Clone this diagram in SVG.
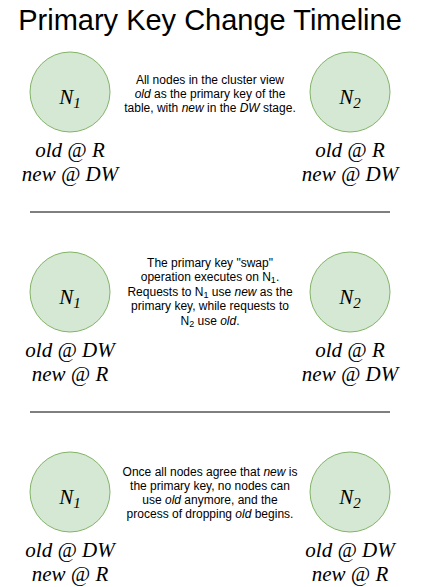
<svg xmlns="http://www.w3.org/2000/svg" width="421" height="587" viewBox="0 0 421 587">
<style>
.bg{fill:#ffffff}
.node{fill:#d5e8d4;stroke:#82b366;stroke-width:1}
.title{font-family:"Liberation Sans",Arial,sans-serif;font-size:29px;fill:#000;text-anchor:middle}
.nl{font-family:"Liberation Serif","Times New Roman",serif;font-style:italic;font-size:21px;fill:#000;text-anchor:middle}
.st{font-family:"Liberation Serif","Times New Roman",serif;font-style:italic;font-size:21px;fill:#000;text-anchor:middle}
.desc{font-family:"Liberation Sans",Arial,sans-serif;font-size:12px;fill:#000;text-anchor:middle}
.it{font-style:italic}
.sep{stroke:#000;stroke-width:1}
</style>
<rect class="bg" width="421" height="587"/>
<text class="title" x="210" y="30">Primary Key Change Timeline</text>

<g id="n1a"><circle class="node" cx="70" cy="92" r="40"/><text class="nl" x="70" y="104">N<tspan font-size="15" dy="4">1</tspan></text></g>
<g id="n2a"><circle class="node" cx="350" cy="92" r="40"/><text class="nl" x="350" y="104">N<tspan font-size="15" dy="4">2</tspan></text></g>
<g id="s1"><text class="st" x="70" y="157">old @ R</text><text class="st" x="70" y="181">new @ DW</text>
<text class="st" x="350" y="157">old @ R</text><text class="st" x="350" y="181">new @ DW</text></g>
<g id="d1"><text class="desc" x="210" y="84">All nodes in the cluster view</text>
<text class="desc" x="210" y="98"><tspan class="it">old</tspan> as the primary key of the</text>
<text class="desc" x="210" y="112">table, with <tspan class="it">new</tspan> in the <tspan class="it">DW</tspan> stage.</text></g>

<g id="n1b"><circle class="node" cx="70" cy="292" r="40"/><text class="nl" x="70" y="304">N<tspan font-size="15" dy="4">1</tspan></text></g>
<g id="n2b"><circle class="node" cx="350" cy="292" r="40"/><text class="nl" x="350" y="304">N<tspan font-size="15" dy="4">2</tspan></text></g>
<g id="s2"><text class="st" x="70" y="357">old @ DW</text><text class="st" x="70" y="381">new @ R</text>
<text class="st" x="350" y="357">old @ R</text><text class="st" x="350" y="381">new @ DW</text></g>
<g id="d2"><text class="desc" x="210" y="267">The primary key "swap"</text>
<text class="desc" x="210" y="281">operation executes on N<tspan font-size="9" dy="2">1</tspan><tspan dy="-2">.</tspan></text>
<text class="desc" x="210" y="296">Requests to N<tspan font-size="9" dy="2">1</tspan><tspan dy="-2"> use </tspan><tspan class="it">new</tspan> as the</text>
<text class="desc" x="210" y="310">primary key, while requests to</text>
<text class="desc" x="210" y="325">N<tspan font-size="9" dy="2">2</tspan><tspan dy="-2"> use </tspan><tspan class="it">old</tspan>.</text></g>

<g id="n1c"><circle class="node" cx="70" cy="492" r="40"/><text class="nl" x="70" y="504">N<tspan font-size="15" dy="4">1</tspan></text></g>
<g id="n2c"><circle class="node" cx="350" cy="492" r="40"/><text class="nl" x="350" y="504">N<tspan font-size="15" dy="4">2</tspan></text></g>
<g id="s3"><text class="st" x="70" y="557">old @ DW</text><text class="st" x="70" y="581">new @ R</text>
<text class="st" x="350" y="557">old @ DW</text><text class="st" x="350" y="581">new @ R</text></g>
<g id="d3"><text class="desc" x="210" y="476">Once all nodes agree that <tspan class="it">new</tspan> is</text>
<text class="desc" x="210" y="490">the primary key, no nodes can</text>
<text class="desc" x="210" y="504">use <tspan class="it">old</tspan> anymore, and the</text>
<text class="desc" x="210" y="518">process of dropping <tspan class="it">old</tspan> begins.</text></g>

<g id="connectors"><line class="sep" x1="30" y1="212" x2="390" y2="212"/><line class="sep" x1="30" y1="412" x2="390" y2="412"/></g>
</svg>
